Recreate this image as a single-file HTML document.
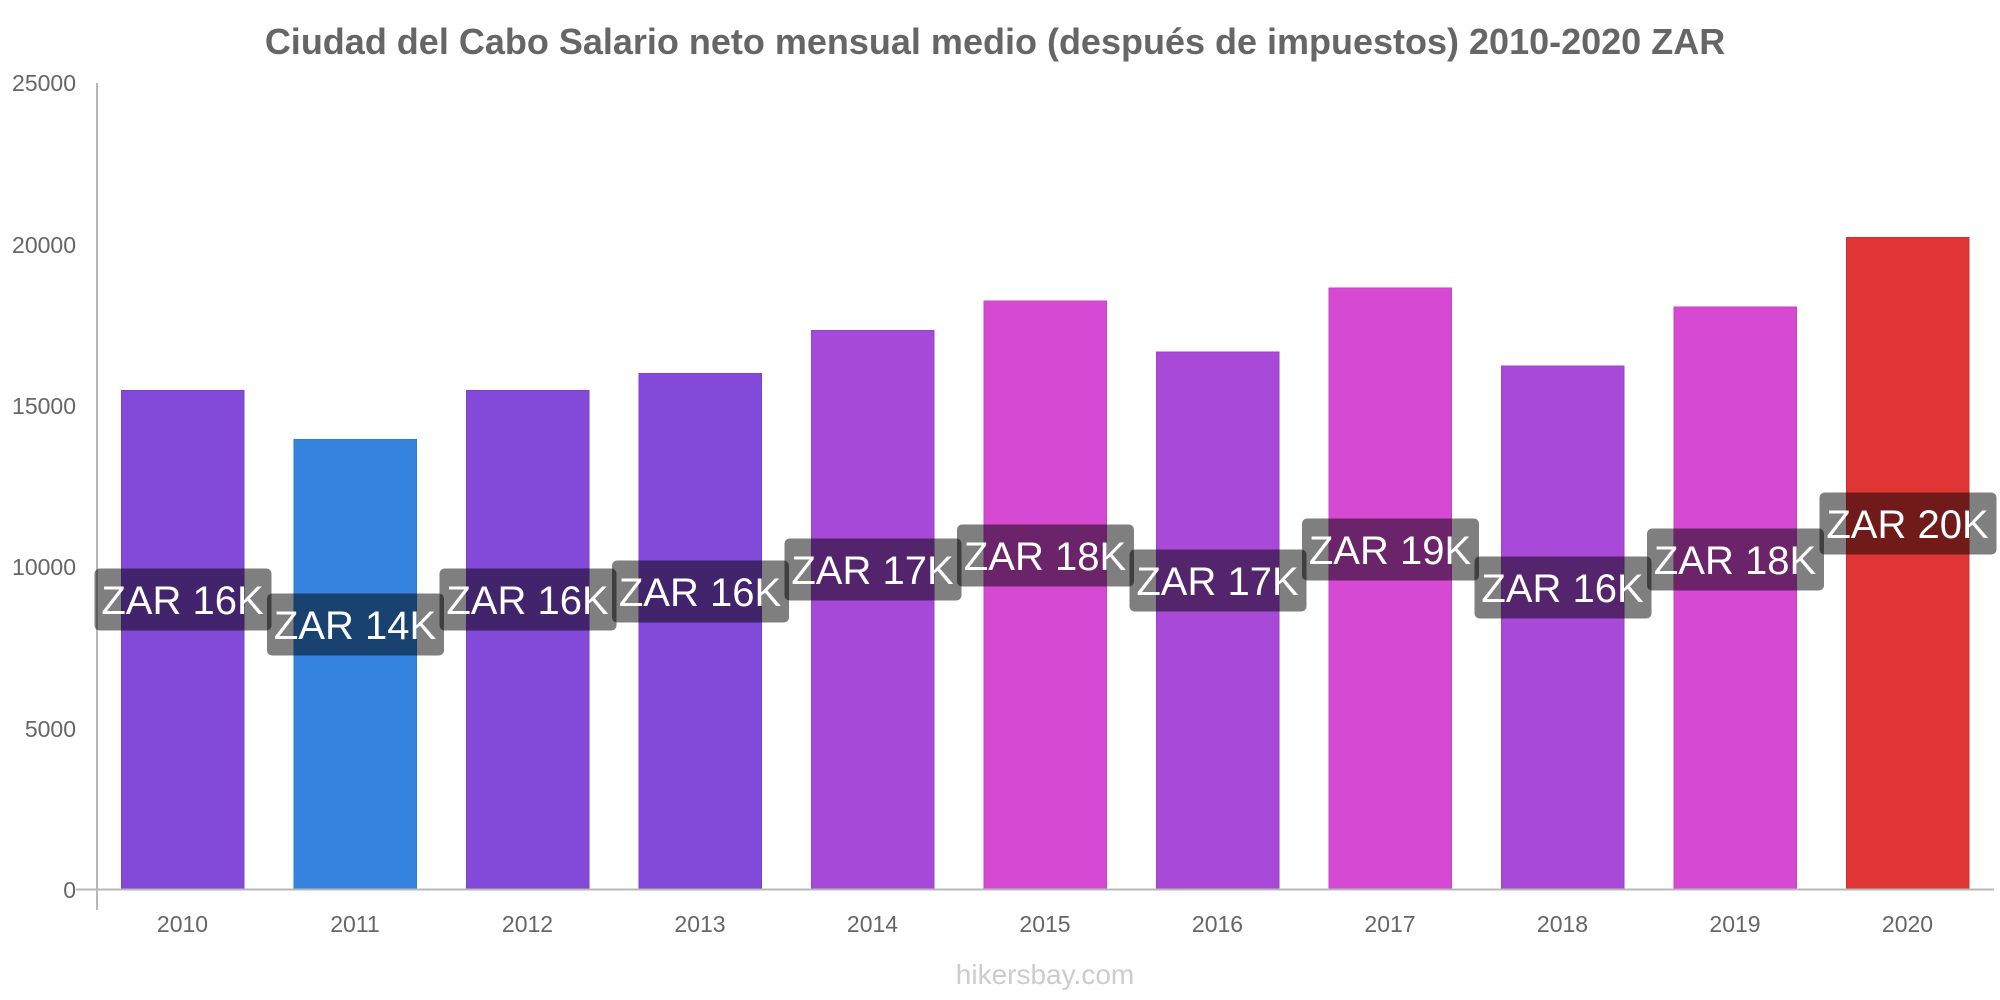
<!DOCTYPE html>
<html>
<head>
<meta charset="utf-8">
<style>
  html, body { margin:0; padding:0; background:#fff; }
  svg { display:block; }
  text { font-family: "Liberation Sans", Arial, sans-serif; }
</style>
</head>
<body>
<svg width="2000" height="1000" viewBox="0 0 2000 1000" xmlns="http://www.w3.org/2000/svg">
  <rect x="0" y="0" width="2000" height="1000" fill="#fff"/>
  <!-- Title -->
  <text x="995" y="54" text-anchor="middle" font-size="36" font-weight="bold" fill="#666">Ciudad del Cabo Salario neto mensual medio (después de impuestos) 2010-2020 ZAR</text>

  <!-- Y labels -->
  <g font-size="23" fill="#666" text-anchor="end">
    <text x="76" y="91">25000</text>
    <text x="76" y="253">20000</text>
    <text x="76" y="414">15000</text>
    <text x="76" y="575">10000</text>
    <text x="76" y="737">5000</text>
    <text x="76" y="898">0</text>
  </g>

  <!-- Bars -->
  <g stroke-width="1">
    <rect x="121.5" y="390.5" width="122.5" height="499" fill="#8349d8" stroke="#7a42cc"/>
    <rect x="294" y="439.5" width="122.5" height="450" fill="#3584e0" stroke="#2f7ad4"/>
    <rect x="466.5" y="390.5" width="122.5" height="499" fill="#8349d8" stroke="#7a42cc"/>
    <rect x="639" y="373.5" width="122.5" height="516" fill="#8349d8" stroke="#7a42cc"/>
    <rect x="811.5" y="330.5" width="122.5" height="559" fill="#a749d8" stroke="#9c42cc"/>
    <rect x="984" y="301" width="122.5" height="588.5" fill="#d649d3" stroke="#c942c6"/>
    <rect x="1156.5" y="352" width="122.5" height="537.5" fill="#a849d8" stroke="#9c42cc"/>
    <rect x="1329" y="288" width="122.5" height="601.5" fill="#d649d3" stroke="#c942c6"/>
    <rect x="1501.5" y="366" width="122.5" height="523.5" fill="#a849d8" stroke="#9c42cc"/>
    <rect x="1674" y="307" width="122.5" height="582.5" fill="#d649d3" stroke="#c942c6"/>
    <rect x="1846.5" y="237.5" width="122.5" height="652" fill="#e03535" stroke="#cf2f2f"/>
  </g>

  <!-- Axes -->
  <line x1="97" y1="83" x2="97" y2="910" stroke="#b8b8b8" stroke-width="2"/>
  <line x1="76" y1="889.5" x2="1994" y2="889.5" stroke="#b8b8b8" stroke-width="2"/>

  <!-- X labels -->
  <g font-size="23" fill="#666" text-anchor="middle">
    <text x="182.5" y="932">2010</text>
    <text x="355" y="932">2011</text>
    <text x="527.5" y="932">2012</text>
    <text x="700" y="932">2013</text>
    <text x="872.5" y="932">2014</text>
    <text x="1045" y="932">2015</text>
    <text x="1217.5" y="932">2016</text>
    <text x="1390" y="932">2017</text>
    <text x="1562.5" y="932">2018</text>
    <text x="1735" y="932">2019</text>
    <text x="1907.5" y="932">2020</text>
  </g>

  <!-- Value labels -->
  <g fill="rgba(0,0,0,0.5)">
    <rect x="94.5" y="568.5" width="177" height="62" rx="5"/>
    <rect x="267" y="593.5" width="177" height="62" rx="5"/>
    <rect x="439.5" y="568.5" width="177" height="62" rx="5"/>
    <rect x="612" y="560.5" width="177" height="62" rx="5"/>
    <rect x="784.5" y="538.5" width="177" height="62" rx="5"/>
    <rect x="957" y="524.5" width="177" height="62" rx="5"/>
    <rect x="1129.5" y="549.5" width="177" height="62" rx="5"/>
    <rect x="1302" y="518.5" width="177" height="62" rx="5"/>
    <rect x="1474.5" y="556.5" width="177" height="62" rx="5"/>
    <rect x="1647" y="528.5" width="177" height="62" rx="5"/>
    <rect x="1819.5" y="492.5" width="177" height="62" rx="5"/>
  </g>
  <g font-size="40" fill="#fff" text-anchor="middle">
    <text x="182.5" y="614">ZAR 16K</text>
    <text x="355" y="639">ZAR 14K</text>
    <text x="527.5" y="614">ZAR 16K</text>
    <text x="700" y="606">ZAR 16K</text>
    <text x="872.5" y="584">ZAR 17K</text>
    <text x="1045" y="570">ZAR 18K</text>
    <text x="1217.5" y="595">ZAR 17K</text>
    <text x="1390" y="564">ZAR 19K</text>
    <text x="1562.5" y="602">ZAR 16K</text>
    <text x="1735" y="574">ZAR 18K</text>
    <text x="1907.5" y="538">ZAR 20K</text>
  </g>

  <!-- Watermark -->
  <text x="1045" y="984" text-anchor="middle" font-size="28" fill="#cccccc">hikersbay.com</text>
</svg>
</body>
</html>
